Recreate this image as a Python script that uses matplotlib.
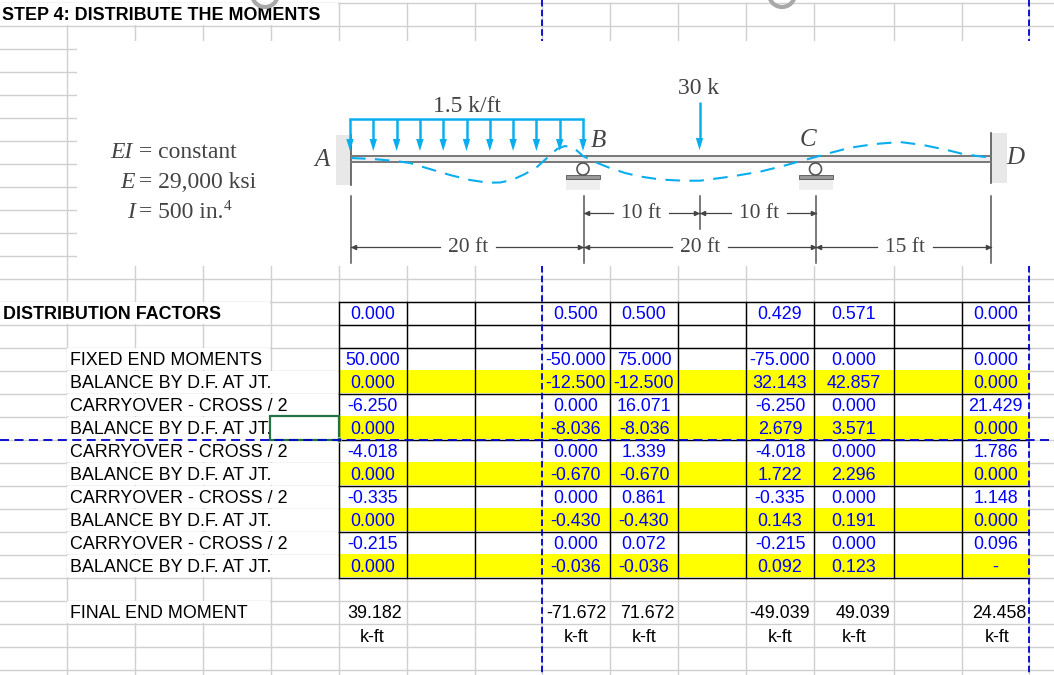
from matplotlib import pyplot as plt
from matplotlib.patches import Rectangle, Circle, Polygon

W, H = 1054, 675

# spreadsheet layout, in pixels
col_lines = [66.5, 134.5, 202.5, 270.5, 338.5, 406.5, 474.5, 541.5, 610, 678, 746, 814, 893.5, 961.5, 1029]
row_lines = [2.5 + 23 * i for i in range(30)]
table_cols = [372.5, 575.5, 644, 780, 853.5, 995.5]

row_labels = [
    "FIXED END MOMENTS",
    "BALANCE BY D.F. AT JT.",
    "CARRYOVER - CROSS / 2",
    "BALANCE BY D.F. AT JT.",
    "CARRYOVER - CROSS / 2",
    "BALANCE BY D.F. AT JT.",
    "CARRYOVER - CROSS / 2",
    "BALANCE BY D.F. AT JT.",
    "CARRYOVER - CROSS / 2",
    "BALANCE BY D.F. AT JT.",
]
dist_factors = ["0.000", "0.500", "0.500", "0.429", "0.571", "0.000"]
col_a = ["50.000", "0.000", "-6.250", "0.000", "-4.018", "0.000", "-0.335", "0.000", "-0.215", "0.000"]
col_ba = ["-50.000", "-12.500", "0.000", "-8.036", "0.000", "-0.670", "0.000", "-0.430", "0.000", "-0.036"]
col_bc = ["75.000", "-12.500", "16.071", "-8.036", "1.339", "-0.670", "0.861", "-0.430", "0.072", "-0.036"]
col_cb = ["-75.000", "32.143", "-6.250", "2.679", "-4.018", "1.722", "-0.335", "0.143", "-0.215", "0.092"]
col_cd = ["0.000", "42.857", "0.000", "3.571", "0.000", "2.296", "0.000", "0.191", "0.000", "0.123"]
col_d = ["0.000", "0.000", "21.429", "0.000", "1.786", "0.000", "1.148", "0.000", "0.096", "-"]
final_moments = ["39.182", "-71.672", "71.672", "-49.039", "49.039", "24.458"]
final_x = [375, 576, 647, 780, 863, 999]
unit_x = [372.5, 576, 644, 780, 854, 997]

# beam sketch
load_arrows = [350, 373.3, 396.6, 419.9, 443.2, 466.5, 489.8, 513.1, 536.4, 559.7, 583]
defl_x = [351, 373, 395, 410, 423, 450, 470, 488, 500, 512, 525, 537, 547, 557, 565, 574, 583, 595, 610, 625,
          640, 660, 683, 700, 730, 760, 783, 812, 830, 850, 875, 900, 923, 947, 963, 990]
defl_y = [158, 159, 161, 163, 167, 175, 180, 182.7, 182.5, 180, 174, 167, 158, 149, 146, 148, 156, 162, 168,
          173, 176.5, 179.5, 180.7, 180.7, 176.7, 171.7, 166, 158, 153, 147.7, 144, 142, 145, 150, 154, 157.7]

GRID = "#d0d0d0"
BLUE = "#0000ff"
CYAN = "#0aaeef"
INK = "#444444"
SANS = "Liberation Sans"
SERIF = "Liberation Serif"


def sheet_text(ax, x, y, s, **kw):
    ax.text(x, y + 1, s, family=SANS, fontsize=12.9, va="center", **kw)


def draw_grid(ax):
    for y in row_lines:
        ax.plot([0, W], [y, y], color=GRID, lw=1, zorder=1)
    for x in col_lines:
        ax.plot([x, x], [2.5, H], color=GRID, lw=1, zorder=1)
    # cells hidden by overflowing text
    hidden = [(0, 3, 338, 22), (0, 302, 270, 22), (67, 348, 203, 22), (67, 601, 203, 22)]
    for i in range(1, 10):
        hidden.append((67, 348 + 23 * i, 271, 22))
    for x, y, w, h in hidden:
        ax.add_patch(Rectangle((x, y), w, h, fc="white", ec="none", zorder=1.5))


def draw_table(ax):
    for i in range(1, 10, 2):
        ax.add_patch(Rectangle((338.5, 347.3 + 23 * i), 690.5, 23, fc="#ffff00", ec="none", zorder=2))
    # 541.5 and 1029 carry the page break dashes instead
    for x in col_lines[4:]:
        if x not in (541.5, 1029):
            ax.plot([x, x], [301.5, 577.5], color="black", lw=1, zorder=3)
    for y in [301.5, 324.5, 347.5, 393.5, 439.5, 485.5, 531.5, 577.5]:
        ax.plot([338.5, 1029], [y, y], color="black", lw=1, zorder=3)

    for x, s in zip(table_cols, dist_factors):
        sheet_text(ax, x, 313.5, s, color=BLUE, ha="center", zorder=5)
    columns = [col_a, col_ba, col_bc, col_cb, col_cd, col_d]
    for x, col in zip(table_cols, columns):
        for i, s in enumerate(col):
            sheet_text(ax, x, 359.5 + 23 * i, s, color=BLUE, ha="center", zorder=5)
    for i, s in enumerate(row_labels):
        sheet_text(ax, 70, 359.5 + 23 * i, s, color="black", zorder=5)
    for x, s in zip(final_x, final_moments):
        sheet_text(ax, x, 613, s, color="black", ha="center", zorder=5)
    for x in unit_x:
        sheet_text(ax, x, 636, "k-ft", color="black", ha="center", zorder=5)

    sheet_text(ax, 2, 14.5, "STEP 4: DISTRIBUTE THE MOMENTS", color="black", weight="bold", zorder=5)
    sheet_text(ax, 3, 313.5, "DISTRIBUTION FACTORS", color="black", weight="bold", zorder=5)
    sheet_text(ax, 70, 613, "FINAL END MOMENT", color="black", zorder=5)

    # selected cell
    ax.add_patch(Rectangle((270, 416), 69, 23.5, fc="none", ec="#217346", lw=1.6, zorder=6))
    ax.add_patch(Rectangle((336.5, 437), 4.5, 4.5, fc="#217346", ec="white", lw=0.4, zorder=6))


def draw_page_breaks(ax):
    dash = (0, (3.6, 1.8))
    for x in [541.5, 1029]:
        ax.plot([x, x], [0, 41], color="#0000cc", lw=1.3, ls=dash, zorder=8)
        ax.plot([x, x], [266, H], color="#0000cc", lw=1.3, ls=dash, zorder=8)
    ax.plot([0, W], [439.5, 439.5], color="#0000cc", lw=1.3, ls=(0, (5, 3)), zorder=8)


def draw_down_arrow(ax, x, y0, y1, lw=1.8):
    ax.plot([x, x], [y0, y1 - 8], color=CYAN, lw=lw, solid_capstyle="butt", zorder=12)
    ax.add_patch(Polygon([(x - 3.7, y1 - 12), (x + 3.7, y1 - 12), (x, y1)], fc=CYAN, ec="none", zorder=12))


def draw_dim(ax, x0, x1, y, label, xc):
    gap = 28
    ax.plot([x0, xc - gap], [y, y], color=INK, lw=0.9, zorder=11)
    ax.plot([xc + gap, x1], [y, y], color=INK, lw=0.9, zorder=11)
    ax.plot([x0 + 3], [y], marker="<", ms=3, color=INK, zorder=11)
    ax.plot([x1 - 3], [y], marker=">", ms=3, color=INK, zorder=11)
    ax.text(xc, y + 0.5, label, family=SERIF, fontsize=15.5, color=INK, ha="center", va="center", zorder=12)


def draw_beam(ax):
    # picture pasted over the sheet
    ax.add_patch(Rectangle((77, 41), W - 77, 225, fc="white", ec="none", zorder=9))

    # walls and ground
    ax.add_patch(Rectangle((336, 135), 15, 50, fc="#e8e8e8", ec="none", zorder=10))
    ax.add_patch(Rectangle((991, 133), 16, 50, fc="#e8e8e8", ec="none", zorder=10))
    ax.plot([351, 351], [135, 185], color="#555555", lw=1.2, zorder=11)
    ax.plot([991, 991], [133, 183], color="#555555", lw=1.2, zorder=11)

    # beam
    ax.add_patch(Rectangle((351, 156), 640, 6, fc="#eeeeee", ec="none", zorder=10))
    ax.plot([351, 991], [155.7, 155.7], color="#777777", lw=1.4, zorder=11)
    ax.plot([351, 991], [162.3, 162.3], color="#777777", lw=1.4, zorder=11)

    # roller supports
    for x in [583, 815.5]:
        ax.add_patch(Circle((x, 169), 6, fc="white", ec="#555555", lw=1.2, zorder=11))
        ax.add_patch(Rectangle((x - 17, 175), 34, 4, fc="#999999", ec="#555555", lw=0.6, zorder=11))
        ax.add_patch(Rectangle((x - 17, 179), 34, 11, fc="#eeeeee", ec="none", zorder=10))

    # loads
    ax.plot([350, 583], [118.7, 118.7], color=CYAN, lw=1.8, zorder=12)
    for x in load_arrows:
        draw_down_arrow(ax, x, 118.7, 151)
    draw_down_arrow(ax, 699.5, 101.5, 150)

    # deflected shape
    ax.plot(defl_x, defl_y, color=CYAN, lw=1.5, ls=(0, (7, 4.5)), zorder=13)

    # dimension lines
    for x, y0, y1 in [(351, 196, 263), (583.5, 196, 263), (699.5, 196, 229), (816, 196, 263), (991, 196, 263)]:
        ax.plot([x, x], [y0, y1], color="#555555", lw=1.1, zorder=11)
    draw_dim(ax, 584, 699, 212.5, "10 ft", 641)
    draw_dim(ax, 700, 815.5, 212.5, "10 ft", 759)
    draw_dim(ax, 351, 583, 246.5, "20 ft", 468)
    draw_dim(ax, 584, 815.5, 246.5, "20 ft", 700)
    draw_dim(ax, 816, 991, 246.5, "15 ft", 905)

    serif = dict(family=SERIF, color=INK, zorder=12, va="center")
    ax.text(467, 106, "1.5 k/ft", fontsize=17, ha="center", **serif)
    ax.text(699, 88, "30 k", fontsize=17, ha="center", **serif)
    ax.text(322, 160, "A", fontsize=18, style="italic", ha="center", **serif)
    ax.text(598, 141, "B", fontsize=18, style="italic", ha="center", **serif)
    ax.text(808, 140, "C", fontsize=18, style="italic", ha="center", **serif)
    ax.text(1015, 158, "D", fontsize=18, style="italic", ha="center", **serif)

    ax.text(110, 152, "EI", fontsize=17, style="italic", **serif)
    ax.text(139, 152, "= constant", fontsize=17, **serif)
    ax.text(120, 183, "E", fontsize=17, style="italic", **serif)
    ax.text(139, 183, "= 29,000 ksi", fontsize=17, **serif)
    ax.text(127, 213, "I", fontsize=17, style="italic", **serif)
    ax.text(139, 213, "= 500 in.", fontsize=17, **serif)
    ax.text(224, 207, "4", fontsize=11, **serif)


def main():
    fig = plt.figure(figsize=(W / 100, H / 100), dpi=100)
    ax = fig.add_axes([0, 0, 1, 1])
    ax.set_xlim(0, W)
    ax.set_ylim(H, 0)
    ax.axis("off")

    draw_grid(ax)
    draw_table(ax)
    draw_page_breaks(ax)
    draw_beam(ax)

    # bits of the floating handles cut off at the top edge
    for x in [265, 782]:
        ax.add_patch(Circle((x, -6), 13, fc="none", ec="#a8a8a8", lw=3, zorder=7))

    fig.savefig("out.png", dpi=100)


main()
